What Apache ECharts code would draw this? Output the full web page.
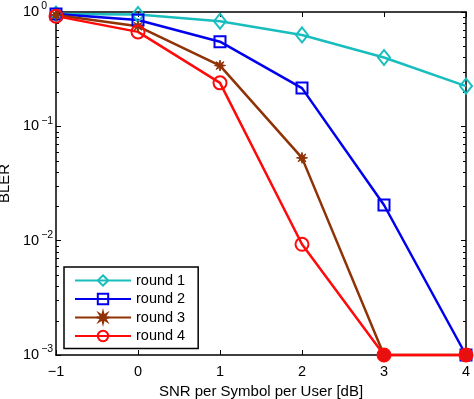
<!DOCTYPE html>
<html>
<head>
<meta charset="utf-8">
<script src="https://cdn.jsdelivr.net/npm/echarts@6/dist/echarts.min.js"></script>
<style>
  html, body { margin: 0; padding: 0; background: #fff; }
  #chart { width: 474px; height: 399px; }
</style>
</head>
<body>
<div id="chart"></div>
<script>
// SNR per symbol per user [dB]
const snr = [-1, 0, 1, 2, 3, 4];
// BLER per HARQ round
const round1 = [0.96, 0.95, 0.83, 0.63, 0.40, 0.225];
const round2 = [0.96, 0.85, 0.55, 0.216, 0.0205, 0.001];
const round3 = [0.94, 0.75, 0.34, 0.053, 0.001, 0.001];
const round4 = [0.92, 0.67, 0.24, 0.0093, 0.001, 0.001];
const seriesNames = ['round 1', 'round 2', 'round 3', 'round 4'];
const yTicks = [1, 0.1, 0.01, 0.001];

const colors = ['#19bdbd', '#0000ee', '#8f3206', '#ff0a0a'];
const asterisk = 'path://M0,-10 L1.53,-3.7 L7.07,-7.07 L3.7,-1.53 L10,0 L3.7,1.53 L7.07,7.07 L1.53,3.7 L0,10 L-1.53,3.7 L-7.07,7.07 L-3.7,1.53 L-10,0 L-3.7,-1.53 L-7.07,-7.07 L-1.53,-3.7 Z';

const font = '"Liberation Sans", Arial, sans-serif';
const chart = echarts.init(document.getElementById('chart'));

function mkSeries(name, vals, color, symbol, size, fill) {
  return {
    name: name,
    type: 'line',
    data: snr.map((x, i) => [x, vals[i]]),
    symbol: symbol,
    symbolSize: size,
    clip: false,
    lineStyle: { color: color, width: 2.5 },
    itemStyle: { color: fill, borderColor: color, borderWidth: 2 },
    emphasis: { disabled: true }
  };
}

const series = [
  mkSeries(seriesNames[0], round1, colors[0], 'diamond', [12, 15], 'rgba(255,255,255,0)'),
  mkSeries(seriesNames[1], round2, colors[1], 'rect', 11, 'rgba(255,255,255,0)'),
  mkSeries(seriesNames[2], round3, colors[2], asterisk, 11, colors[2]),
  mkSeries(seriesNames[3], round4, colors[3], 'circle', 13, 'rgba(255,255,255,0)')
];
// the overlapped markers on the floor look filled
series[3].data[4] = { value: [snr[4], round4[4]], itemStyle: { color: '#e61010' } };
series[3].data[5] = { value: [snr[5], round4[5]], itemStyle: { color: '#e61010' } };
series[2].itemStyle.borderWidth = 1;

const axisLine = { show: true, onZero: false, lineStyle: { color: '#000', width: 1.5 } };
const tick = { inside: true, length: 5, lineStyle: { color: '#000' } };

chart.setOption({
  animation: false,
  grid: { left: 56, right: 8, top: 12, bottom: 44, outerBoundsMode: 'none', containLabel: false },
  legend: {
    orient: 'vertical',
    left: 64, top: 267,
    backgroundColor: '#fff',
    borderColor: '#000',
    borderWidth: 1.5,
    borderRadius: 0,
    padding: [6, 13, 5, 10],
    itemGap: 3.5,
    itemWidth: 56,
    itemHeight: 13,
    textStyle: { fontFamily: font, fontSize: 14.5, color: '#000' },
    data: seriesNames
  },
  xAxis: [{
    type: 'value', min: -1, max: 4, interval: 1,
    name: 'SNR per Symbol per User [dB]',
    nameLocation: 'middle', nameGap: 29,
    nameTextStyle: { fontFamily: font, fontSize: 15, color: '#000' },
    axisLine: axisLine,
    axisTick: tick,
    axisLabel: { fontFamily: font, fontSize: 14.5, color: '#000', margin: 9,
      formatter: v => (v < 0 ? '\u2212' + (-v) : '' + v) },
    splitLine: { show: false }
  }, {
    type: 'value', min: -1, max: 4, interval: 1, position: 'top',
    axisLine: axisLine,
    axisTick: tick,
    axisLabel: { show: false },
    splitLine: { show: false }
  }],
  yAxis: [{
    type: 'log', min: 0.001, max: 1, logBase: 10,
    name: 'BLER',
    nameLocation: 'middle', nameGap: 36,
    nameTextStyle: { fontFamily: font, fontSize: 15, color: '#000' },
    axisLine: axisLine,
    axisTick: tick,
    axisLabel: {
      fontFamily: font, fontSize: 14.5, color: '#000', margin: 33, align: 'left',
      formatter: v => {
        const e = Math.round(Math.log10(v));
        return '10{s|' + (e < 0 ? '\u2212' + (-e) : e) + '}';
      },
      rich: { s: { fontFamily: font, fontSize: 10.5, color: '#000', verticalAlign: 'bottom', padding: [0, 0, 11, 2] } }
    },
    splitLine: { show: false }
  }, {
    type: 'log', min: 0.001, max: 1, logBase: 10, position: 'right',
    axisLine: axisLine,
    axisTick: tick,
    axisLabel: { show: false },
    splitLine: { show: false }
  }],
  series: series
});

// minor ticks of the log axis (2..9 within each decade), placed through the axis scale
const minor = [];
const xl = chart.convertToPixel({ xAxisIndex: 0 }, -1);
const xr = chart.convertToPixel({ xAxisIndex: 0 }, 4);
for (let d = 0; d < yTicks.length - 1; d++) {
  for (let k = 2; k <= 9; k++) {
    const y = Math.round(chart.convertToPixel({ yAxisIndex: 0 }, yTicks[d + 1] * k)) + 0.5;
    minor.push({ type: 'line', shape: { x1: xl, y1: y, x2: xl + 3, y2: y }, style: { stroke: '#000', lineWidth: 1 }, silent: true });
    minor.push({ type: 'line', shape: { x1: xr - 3, y1: y, x2: xr, y2: y }, style: { stroke: '#000', lineWidth: 1 }, silent: true });
  }
}
chart.setOption({ graphic: minor });
</script>
</body>
</html>
